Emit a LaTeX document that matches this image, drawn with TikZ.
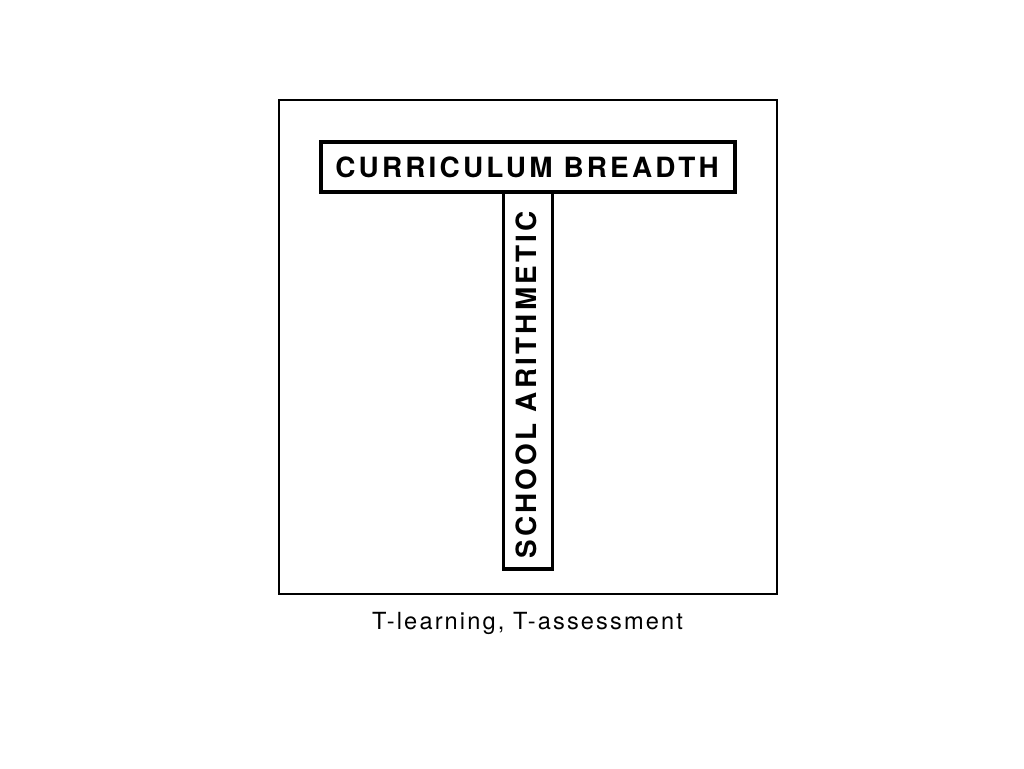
\documentclass[tikz,border=0pt]{standalone}
\usepackage{fontspec}
\setmainfont{TeX Gyre Heros}
\newfontfamily\barfont[LetterSpace=11.5]{TeX Gyre Heros}
\newfontfamily\capfont[LetterSpace=9]{TeX Gyre Heros}
\begin{document}
\begin{tikzpicture}[x=1pt,y=-1pt,
  frame/.style={draw=black,line width=1.5pt,inner sep=0pt,outer sep=0pt},
  barbox/.style={draw=black,line width=3.5pt,inner sep=0pt,outer sep=0pt,fill=white},
  bartext/.style={inner sep=0pt,font=\barfont\bfseries\fontsize{27.9pt}{32pt}\selectfont},
  captext/.style={inner sep=0pt,font=\capfont\fontsize{23.6pt}{28pt}\selectfont}]
\useasboundingbox (0,0) rectangle (1024,768);
\node[frame,minimum width=498pt,minimum height=494pt] (outer) at (528,347) {};
\node[barbox,minimum width=49pt,minimum height=377pt] (stem) at (528,380.5) {};
\node[barbox,minimum width=414pt,minimum height=50pt] (bar) at (528,167) {};
\node[bartext,anchor=base] (bartxt) at (527,177.3) {CURRICULUM BREADTH};
\node[bartext,anchor=base,rotate=90] (stemtxt) at (536.7,385) {SCHOOL ARITHMETIC};
\node[captext,anchor=base] (caption) at (527.5,629) {T-learning, T-assessment};
\end{tikzpicture}
\end{document}
